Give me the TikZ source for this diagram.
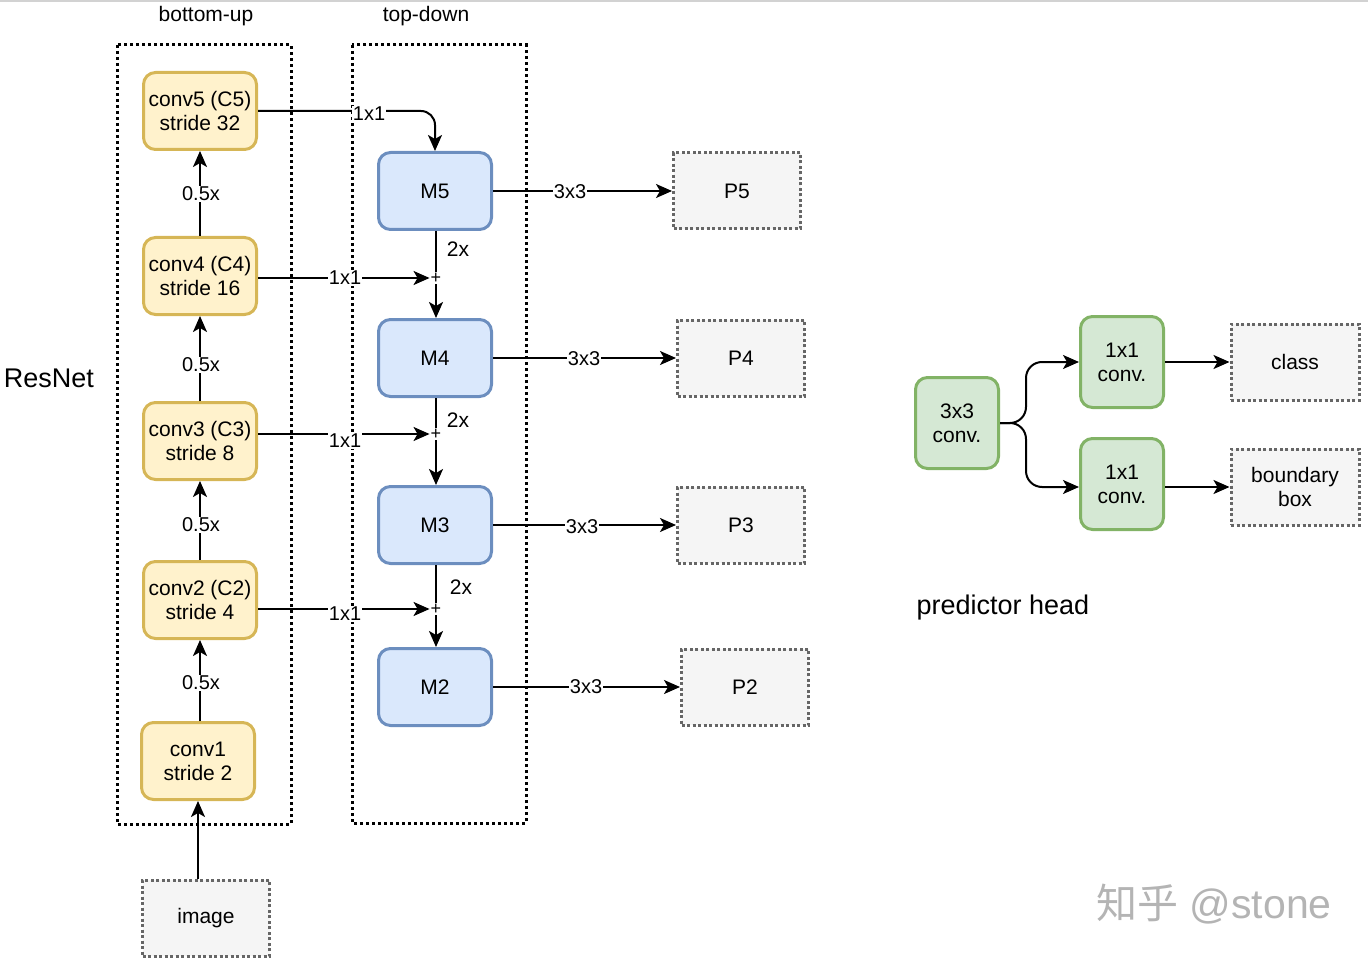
\documentclass[tikz,border=0pt]{standalone}
\usepackage{fontspec}
\setmainfont{Liberation Sans}
\newfontfamily\cjk{Noto Sans CJK SC}
\usetikzlibrary{arrows.meta}
\definecolor{yfill}{HTML}{FFF2CC}
\definecolor{ydraw}{HTML}{D6B656}
\definecolor{bfill}{HTML}{DAE8FC}
\definecolor{bdraw}{HTML}{6C8EBF}
\definecolor{gfill}{HTML}{D5E8D4}
\definecolor{gdraw}{HTML}{82B366}
\definecolor{pfill}{HTML}{F5F5F5}
\definecolor{pdraw}{HTML}{666666}
\definecolor{wm}{HTML}{B4B4B4}
\begin{document}
\begin{tikzpicture}[x=1pt,y=-1pt,
  font=\fontsize{21}{24}\selectfont,
  box/.style={rounded corners=12pt, line width=3pt, minimum width=113pt, minimum height=77pt, inner sep=0pt, align=center},
  ybox/.style={box, fill=yfill, draw=ydraw},
  bbox/.style={box, fill=bfill, draw=bdraw},
  gbox/.style={box, fill=gfill, draw=gdraw, minimum width=83pt, minimum height=91pt},
  pbox/.style={fill=pfill, draw=pdraw, line width=3pt, dash pattern=on 3pt off 2.5pt, minimum width=127pt, minimum height=76pt, inner sep=0pt, align=center},
  cont/.style={draw=black, line width=3pt, dash pattern=on 3pt off 3pt},
  arr/.style={line width=2pt, -{Stealth[length=16pt,width=14pt,inset=4pt]}},
  ln/.style={line width=2pt},
  lbl/.style={fill=white, inner sep=1pt, font=\fontsize{20}{23}\selectfont},
  plus/.style={inner sep=1pt, font=\fontsize{18}{20}\selectfont},
]
\useasboundingbox (0,0) rectangle (1368,960);
\draw[gray!35, line width=1.5pt] (0,1) -- (1368,1);

% containers
\draw[cont] (117,45) rectangle (291,824);
\draw[cont] (352,45) rectangle (526,823);
\node (tbu) at (206,16) {bottom-up};
\node (ttd) at (426,16) {top-down};
\node[font=\fontsize{27}{30}\selectfont] (resnet) at (49,378) {ResNet};

% bottom-up
\node[ybox] (c5) at (200,111) {conv5 (C5)\\stride 32};
\node[ybox] (c4) at (200,276) {conv4 (C4)\\stride 16};
\node[ybox] (c3) at (200,441) {conv3 (C3)\\stride 8};
\node[ybox] (c2) at (200,600) {conv2 (C2)\\stride 4};
\node[ybox] (c1) at (198,761) {conv1\\stride 2};
\node[pbox] (img) at (206,918) {image};

\draw[arr] (c4.north) -- (c5.south);
\draw[arr] (c3.north) -- (c4.south);
\draw[arr] (c2.north) -- (c3.south);
\draw[arr] (c1.north -| c2.north) -- (c2.south);
\draw[arr] (img.north -| c1.north) -- (c1.south);
\node[lbl] (h54) at (201,194) {0.5x};
\node[lbl] (h43) at (201,365) {0.5x};
\node[lbl] (h32) at (201,525) {0.5x};
\node[lbl] (h21) at (201,683) {0.5x};

% top-down
\node[bbox] (m5) at (435,191) {M5};
\node[bbox] (m4) at (435,358) {M4};
\node[bbox] (m3) at (435,525) {M3};
\node[bbox] (m2) at (435,687) {M2};
\node[plus] (s4) at (436,278) {+};
\node[plus] (s3) at (436,434) {+};
\node[plus] (s2) at (436,609) {+};

\draw[arr, rounded corners=14pt] (c5.east) -| (m5.north);
\node[lbl] (l5) at (369,114) {1x1};
\draw[arr] (c4.east |- s4) -- (s4.west);
\node[lbl] (l4) at (345,278) {1x1};
\draw[arr] (c3.east |- s3) -- (s3.west);
\node[lbl] (l3) at (345,441) {1x1};
\draw[arr] (c2.east |- s2) -- (s2.west);
\node[lbl] (l2) at (345,614) {1x1};

\draw[ln] (m5.south -| s4) -- (s4.north);
\draw[arr] (s4.south) -- (m4.north -| s4);
\draw[ln] (m4.south -| s3) -- (s3.north);
\draw[arr] (s3.south) -- (m3.north -| s3);
\draw[ln] (m3.south -| s2) -- (s2.north);
\draw[arr] (s2.south) -- (m2.north -| s2);
\node (u5) at (458,249) {2x};
\node (u4) at (458,420) {2x};
\node (u3) at (461,587) {2x};

% P outputs
\node[pbox] (p5) at (737,191) {P5};
\node[pbox] (p4) at (741,358) {P4};
\node[pbox] (p3) at (741,525) {P3};
\node[pbox] (p2) at (745,687) {P2};
\draw[arr] (m5.east) -- (p5.west);
\draw[arr] (m4.east) -- (p4.west);
\draw[arr] (m3.east) -- (p3.west);
\draw[arr] (m2.east) -- (p2.west);
\node[lbl] (k5) at (570,192) {3x3};
\node[lbl] (k4) at (584,359) {3x3};
\node[lbl] (k3) at (582,527) {3x3};
\node[lbl] (k2) at (586,687) {3x3};

% predictor head
\node[gbox] (h3) at (957,423) {3x3\\conv.};
\node[gbox] (h1a) at (1122,362) {1x1\\conv.};
\node[gbox] (h1b) at (1122,484) {1x1\\conv.};
\node[pbox, minimum width=128pt] (cls) at (1295,362) {class};
\node[pbox, minimum width=128pt] (bb) at (1295,487) {boundary\\box};
\coordinate (fork) at (1026,423);
\draw[arr, rounded corners=16pt] (h3.east) -- (fork) |- (h1a.west);
\draw[arr, rounded corners=16pt] (h3.east) -- (fork) |- (h1b.west |- bb);
\draw[arr] (h1a.east) -- (cls.west);
\draw[arr] (h1b.east |- bb) -- (bb.west);
\node[font=\fontsize{27}{30}\selectfont] (ph) at (1003,608) {predictor head};

% watermark
\node[text=wm, font=\fontsize{41}{44}\selectfont] (wmk) at (1214,904) {{\cjk 知乎} @stone};
\end{tikzpicture}
\end{document}
